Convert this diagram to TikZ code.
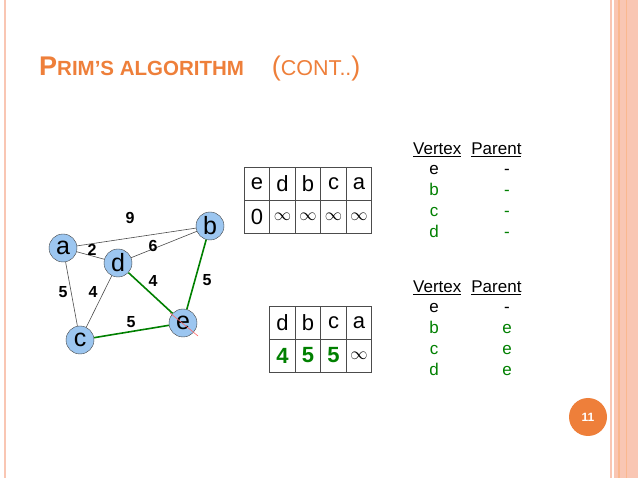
\documentclass[tikz,border=0pt]{standalone}
\usepackage{fontspec}
\setmainfont{Liberation Sans}
\begin{document}
\begin{tikzpicture}[x=1pt,y=-1pt,
  vtx/.style={circle,draw=black!75,fill=nodeb,minimum size=28pt,inner sep=0pt,font=\fontsize{25}{25}\selectfont},
  ed/.style={draw=black!70,line width=0.6pt},
  gr/.style={draw=green!50!black,line width=1.6pt},
  wl/.style={font=\bfseries\fontsize{16}{16}\selectfont},
  cell/.style={draw=black!70,line width=0.8pt,minimum width=25.5pt,minimum height=33pt,inner sep=0pt,font=\fontsize{22}{22}\selectfont},
  inf/.style={cell,font=\fontsize{17}{17}\selectfont},
  gv/.style={cell,text=green!50!black,font=\bfseries\fontsize{22}{22}\selectfont},
  tx/.style={font=\fontsize{17}{17}\selectfont,inner sep=0pt,anchor=base},
  gt/.style={tx,text=green!50!black}]
\definecolor{orng}{HTML}{EE7F3A}
\definecolor{pinkb}{HTML}{F9C6B3}
\definecolor{nodeb}{HTML}{9CC6F0}
\useasboundingbox (0,0) rectangle (638,478);
\fill[white] (0,0) rectangle (638,478);
% borders
\draw[pinkb,line width=1.2pt] (5,0) -- (5,478);
\draw[pinkb,line width=1.5pt] (611,0) -- (611,478);
\fill[pinkb] (614,0) rectangle (638,478);
\fill[pinkb!80!orange] (618,0) rectangle (620,478);
\fill[pinkb!80!orange] (626,0) rectangle (627,478);
% title
\node[anchor=base west,inner sep=0pt,text=orng] (title) at (39,76)
 {\bfseries\fontsize{27}{27}\selectfont P\fontsize{20.5}{20}\selectfont RIM’S ALGORITHM\hspace{28pt}\mdseries\fontsize{27}{27}\selectfont(\fontsize{21.5}{20}\selectfont CONT..\fontsize{27}{27}\selectfont)};
% graph
\node[vtx] (a) at (63,248) {a};
\node[vtx] (b) at (210,226) {b};
\node[vtx] (d) at (118,263) {d};
\node[vtx] (e) at (183,323) {e};
\node[vtx] (c) at (80,340) {c};
\draw[ed] (a) -- (b);
\draw[ed] (a) -- (d);
\draw[ed] (d) -- (b);
\draw[ed] (a) -- (c);
\draw[ed] (d) -- (c);
\draw[gr] (d) -- (e);
\draw[gr] (b) -- (e);
\draw[gr] (c) -- (e);
\coordinate (r1) at (170,313); \coordinate (r2) at (198,336);
\draw[red!60,line width=0.6pt] (r1) -- (r2);
\node[wl] (w1) at (130,218) {9};
\node[wl] (w2) at (92,250) {2};
\node[wl] (w3) at (153,246) {6};
\node[wl] (w4) at (153,281) {4};
\node[wl] (w5) at (207,280) {5};
\node[wl] (w6) at (63,292) {5};
\node[wl] (w7) at (93,292) {4};
\node[wl] (w8) at (131,322) {5};
% table 1
\foreach \l/\x in {e/257,d/282.5,b/308,c/333.5,a/359}{\node[cell] (t1\l) at (\x,184) {\l};}
\node[cell] (t1e0) at (257,216.5) {0};
\foreach \l/\x in {d/282.5,b/308,c/333.5,a/359}{\node[inf] (t1\l i) at (\x,216.5) {$\infty$};}
% table 2
\foreach \l/\x in {d/282.5,b/308,c/333.5,a/359}{\node[cell] (t2\l) at (\x,322.5) {\l};}
\node[gv] (t2dv) at (282.5,355.5) {4};
\node[gv] (t2bv) at (308,355.5) {5};
\node[gv] (t2cv) at (333.5,355.5) {5};
\node[inf] (t2ai) at (359,355.5) {$\infty$};
% vertex parent 1
\node[tx,anchor=base west] (h1) at (413,155) {\underline{Vertex}\hspace{10pt}\underline{Parent}};
\node[tx] (v1e) at (434,175) {e}; \node[tx] (p1e) at (507,175) {-};
\node[gt] (v1b) at (434,196) {b}; \node[gt] (p1b) at (507,196) {-};
\node[gt] (v1c) at (434,217) {c}; \node[gt] (p1c) at (507,217) {-};
\node[gt] (v1d) at (434,238) {d}; \node[gt] (p1d) at (507,238) {-};
% vertex parent 2
\node[tx,anchor=base west] (h2) at (413,293) {\underline{Vertex}\hspace{10pt}\underline{Parent}};
\node[tx] (v2e) at (434,313) {e}; \node[tx] (p2e) at (507,313) {-};
\node[gt] (v2b) at (434,334) {b}; \node[gt] (p2b) at (507,334) {e};
\node[gt] (v2c) at (434,355) {c}; \node[gt] (p2c) at (507,355) {e};
\node[gt] (v2d) at (434,376) {d}; \node[gt] (p2d) at (507,376) {e};
% page number
\node[circle,fill=orng,minimum size=38pt,inner sep=0pt,text=white,font=\bfseries\fontsize{12}{12}\selectfont] (pg) at (588,417) {11};
\end{tikzpicture}
\end{document}
